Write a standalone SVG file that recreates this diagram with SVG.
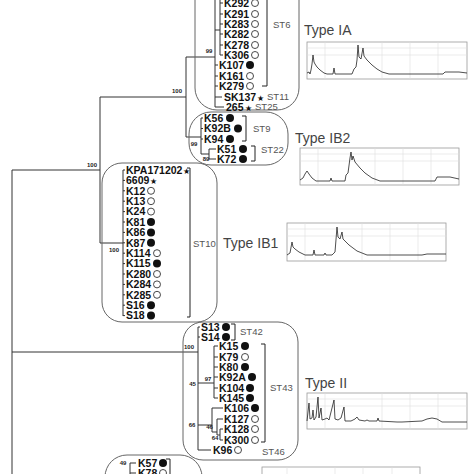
<svg xmlns="http://www.w3.org/2000/svg" width="474" height="474" viewBox="0 0 474 474">
<style>
.leaf{font-family:"Liberation Sans",Arial,sans-serif;font-size:10.5px;font-weight:bold;fill:#111}
.bs{font-family:"Liberation Sans",Arial,sans-serif;font-size:6px;font-weight:bold;fill:#222;text-anchor:middle}
.st{font-family:"Liberation Sans",Arial,sans-serif;font-size:9.5px;fill:#555}
.ty{font-family:"Liberation Sans",Arial,sans-serif;font-size:14px;fill:#444}
.box{fill:none;stroke:#666;stroke-width:1}
.tr{fill:none;stroke:#333;stroke-width:1}
.br{fill:none;stroke:#222;stroke-width:1}
.f{fill:#111}
.o{fill:#fff;stroke:#333;stroke-width:0.9}
.star{font-family:"DejaVu Sans",sans-serif;font-size:8px;fill:#111}
.cb{fill:#fff;stroke:#999;stroke-width:0.8}
.gl{stroke:#ddd;stroke-width:0.6}
.trace{fill:none;stroke:#222;stroke-width:0.8;stroke-linejoin:round}
</style>
<defs>
<g id="grid">
<line class="gl" x1="0" y1="6" x2="160" y2="6"/>
<line class="gl" x1="0" y1="13" x2="160" y2="13"/>
<line class="gl" x1="18" y1="0" x2="18" y2="37"/>
<line class="gl" x1="75" y1="0" x2="75" y2="37"/>
<line class="gl" x1="103" y1="0" x2="103" y2="37"/>
<line class="gl" x1="131" y1="0" x2="131" y2="37"/>
</g>
</defs>

<g id="connectors">
<!-- root -->
<path class="tr" d="M12,170 V474 M12,170 H100 M100,97 V243 M100,97 H186 M12,352 H198"/>
<!-- ST6 clade -->
<path class="tr" d="M186,57 V137 M186,57 H215 M215,-5 V107 M220,-5 V55 M215,30 H220"/>
<path class="tr" d="M220,3 H223 M220,14 H223 M220,24 H223 M220,34 H223 M220,45 H223 M220,55 H223 M215,65 H218 M215,76 H218 M215,86 H218 M215,97 H222 M215,107 H224"/>
<!-- ST9/ST22 clade -->
<path class="tr" d="M186,137 H201 M201,118 V154 M201,118 H203 M201,128.5 H203 M201,139 H203 M201,154 H209 M209,149 V159 M209,149 H216 M209,159 H216"/>
<!-- ST10 clade -->
<path class="tr" d="M100,243 H123 M123,170 V316"/>
<path class="tr" d="M123,170H125M123,180.4H125M123,190.8H125M123,201.2H125M123,211.6H125M123,222H125M123,232.4H125M123,242.8H125M123,253.2H125M123,263.6H125M123,274H125M123,284.4H125M123,294.8H125M123,305.2H125M123,315.6H125"/>
<!-- Type II clade -->
<path class="tr" d="M198,327 V450 M198,327 H200 M198,337 H200 M198,383 H214 M214,346 V398 M214,346H218M214,357H218M214,367H218M214,377H218M214,388H218M214,398H218 M198,425 H212 M212,408 V432 M212,408 H223 M212,432 H217 M217,419 V435 M217,419 H223 M217,435 H220 M220,429 V440 M220,429 H223 M220,440 H223 M198,450 H211"/>
<!-- bottom clade -->
<path class="tr" d="M130,463 V480 M130,463 H136 M130,473 H136"/>
</g>

<g id="bootstrap">
<text class="bs" x="209" y="53">99</text>
<text class="bs" x="177" y="93">100</text>
<text class="bs" x="92" y="167">100</text>
<text class="bs" x="194" y="146">99</text>
<text class="bs" x="206" y="161">89</text>
<text class="bs" x="114" y="252">100</text>
<text class="bs" x="189" y="349">100</text>
<text class="bs" x="208" y="381">97</text>
<text class="bs" x="192.5" y="386">45</text>
<text class="bs" x="192" y="427">66</text>
<text class="bs" x="209.5" y="429">46</text>
<text class="bs" x="215" y="440">64</text>
<text class="bs" x="123" y="465">49</text>
</g>

<g id="clade-ST6">
<rect class="box" x="195" y="-40" width="104" height="150" rx="22"/>
<text class="leaf" x="224" y="6.8">K292</text><circle class="o" cx="255" cy="3" r="3.5"/>
<text class="leaf" x="224" y="17.8">K291</text><circle class="o" cx="255" cy="14" r="3.5"/>
<text class="leaf" x="224" y="27.8">K283</text><circle class="o" cx="255" cy="24" r="3.5"/>
<text class="leaf" x="224" y="37.8">K282</text><circle class="o" cx="255" cy="34" r="3.5"/>
<text class="leaf" x="224" y="48.8">K278</text><circle class="o" cx="255" cy="45" r="3.5"/>
<text class="leaf" x="224" y="58.8">K306</text><circle class="o" cx="255" cy="55" r="3.5"/>
<text class="leaf" x="219" y="68.8">K107</text><circle class="f" cx="250" cy="65" r="4"/>
<text class="leaf" x="219" y="79.8">K161</text><circle class="o" cx="250" cy="76" r="3.5"/>
<text class="leaf" x="219" y="89.8">K279</text><circle class="o" cx="250" cy="86" r="3.5"/>
<text class="leaf" x="224" y="100.8">SK137</text><text class="star" x="257" y="100.5">★</text>
<text class="leaf" x="226" y="110.8">265</text><text class="star" x="245" y="110.5">★</text>
<path class="br" d="M267,-2 V86 H262"/>
<text class="st" x="273" y="28">ST6</text>
<text class="st" x="267" y="100">ST11</text>
<text class="st" x="255" y="110">ST25</text>
</g>

<g id="clade-ST9">
<rect class="box" x="189" y="112" width="99" height="53" rx="22"/>
<text class="leaf" x="204" y="121.8">K56</text><circle class="f" cx="230" cy="118" r="4"/>
<text class="leaf" x="204" y="132.3">K92B</text><circle class="f" cx="238" cy="128.5" r="4"/>
<text class="leaf" x="204" y="142.8">K94</text><circle class="f" cx="230" cy="139" r="4"/>
<text class="leaf" x="217" y="152.8">K51</text><circle class="f" cx="243" cy="149" r="4"/>
<text class="leaf" x="217" y="162.8">K72</text><circle class="f" cx="243" cy="159" r="4"/>
<path class="br" d="M242,116 H246 V141 H242 M251,146 H255 V161 H251"/>
<text class="st" x="253" y="132">ST9</text>
<text class="st" x="261" y="153">ST22</text>
</g>

<g id="clade-ST10">
<rect class="box" x="102" y="163" width="115" height="159" rx="20"/>
<text class="leaf" x="126" y="173.8">KPA171202</text><text class="star" x="183" y="173.5">★</text>
<text class="leaf" x="126" y="184.2">6609</text><text class="star" x="150" y="184">★</text>
<text class="leaf" x="126" y="194.6">K12</text><circle class="o" cx="151" cy="190.8" r="3.5"/>
<text class="leaf" x="126" y="205">K13</text><circle class="o" cx="151" cy="201.2" r="3.5"/>
<text class="leaf" x="126" y="215.4">K24</text><circle class="o" cx="151" cy="211.6" r="3.5"/>
<text class="leaf" x="126" y="225.8">K81</text><circle class="f" cx="151" cy="222" r="4"/>
<text class="leaf" x="126" y="236.2">K86</text><circle class="f" cx="151" cy="232.4" r="4"/>
<text class="leaf" x="126" y="246.6">K87</text><circle class="f" cx="151" cy="242.8" r="4"/>
<text class="leaf" x="126" y="257">K114</text><circle class="o" cx="157" cy="253.2" r="3.5"/>
<text class="leaf" x="126" y="267.4">K115</text><circle class="f" cx="157" cy="263.6" r="4"/>
<text class="leaf" x="126" y="277.8">K280</text><circle class="o" cx="157" cy="274" r="3.5"/>
<text class="leaf" x="126" y="288.2">K284</text><circle class="o" cx="157" cy="284.4" r="3.5"/>
<text class="leaf" x="126" y="298.6">K285</text><circle class="o" cx="157" cy="294.8" r="3.5"/>
<text class="leaf" x="126" y="309">S16</text><circle class="f" cx="151" cy="305.2" r="4"/>
<text class="leaf" x="126" y="319.4">S18</text><circle class="f" cx="151" cy="315.6" r="4"/>
<path class="br" d="M187,168 H190 V317 H187"/>
<text class="st" x="193" y="247">ST10</text>
</g>

<g id="clade-ST43">
<rect class="box" x="183" y="322" width="115" height="138" rx="20"/>
<text class="leaf" x="201" y="330.8">S13</text><circle class="f" cx="226" cy="327" r="4"/>
<text class="leaf" x="201" y="340.8">S14</text><circle class="f" cx="226" cy="337" r="4"/>
<text class="leaf" x="219" y="349.8">K15</text><circle class="f" cx="245" cy="346" r="4"/>
<text class="leaf" x="219" y="360.8">K79</text><circle class="o" cx="245" cy="357" r="3.5"/>
<text class="leaf" x="219" y="370.8">K80</text><circle class="f" cx="245" cy="367" r="4"/>
<text class="leaf" x="219" y="380.8">K92A</text><circle class="f" cx="252" cy="377" r="4"/>
<text class="leaf" x="219" y="391.8">K104</text><circle class="f" cx="250" cy="388" r="4"/>
<text class="leaf" x="219" y="401.8">K145</text><circle class="f" cx="250" cy="398" r="4"/>
<text class="leaf" x="224" y="411.8">K106</text><circle class="f" cx="255" cy="408" r="4"/>
<text class="leaf" x="224" y="422.8">K127</text><circle class="o" cx="255" cy="419" r="3.5"/>
<text class="leaf" x="224" y="432.8">K128</text><circle class="o" cx="255" cy="429" r="3.5"/>
<text class="leaf" x="224" y="443.8">K300</text><circle class="o" cx="255" cy="440" r="3.5"/>
<text class="leaf" x="213" y="453.8">K96</text><circle class="o" cx="238" cy="450" r="3.5"/>
<path class="br" d="M231,324 H235 V340 H231 M261,344 H265 V442 H261"/>
<text class="st" x="240" y="335">ST42</text>
<text class="st" x="270" y="391">ST43</text>
<text class="st" x="262" y="455">ST46</text>
</g>

<g id="clade-bottom">
<rect class="box" x="105" y="455" width="97" height="60" rx="22"/>
<text class="leaf" x="138" y="466.8">K57</text><circle class="f" cx="163" cy="463" r="4"/>
<text class="leaf" x="138" y="476.8">K78</text><circle class="o" cx="163" cy="473" r="3.5"/>
<path class="br" d="M166,459 H170 V480"/>
</g>

<g id="type-IA">
<text class="ty" x="304" y="35">Type IA</text>
<g transform="translate(307,42)">
<rect class="cb" x="0" y="0" width="160" height="37"/>
<use href="#grid"/>
<path class="trace" d="M0,31 L2,30 L3,32 L4,28 L5,22 L6,13 L7,20 L8,22 L10,25 L13,28 L17,31 L20,32 L26,32 L27,26 L28,32 L45,32 L47,27 L49,25 L50,18 L51,3 L52,15 L54,17 L56,6 L57,14 L60,18 L65,23 L70,27 L75,30 L82,32 L136,32 L138,30 L152,30 L160,31"/>
</g>
</g>

<g id="type-IB2">
<text class="ty" x="295" y="143">Type IB2</text>
<g transform="translate(300,148)">
<rect class="cb" x="0" y="0" width="159" height="37"/>
<use href="#grid"/>
<path class="trace" d="M0,32 L3,30 L5,26 L7,23 L9,26 L12,30 L16,33 L30,33 L31,30 L32,33 L45,33 L46,27 L48,25 L50,10 L51,4 L52,12 L53,8 L55,14 L60,20 L65,25 L72,30 L80,33 L135,33 L137,29 L150,29 L159,31"/>
</g>
</g>

<g id="type-IB1">
<text class="ty" x="223" y="248">Type IB1</text>
<g transform="translate(287,223)">
<rect class="cb" x="0" y="0" width="159" height="38"/>
<use href="#grid"/>
<path class="trace" d="M0,32 L3,30 L5,19 L6,24 L8,26 L12,29 L18,32 L26,32 L27,27 L28,32 L37,32 L38,30 L39,32 L45,32 L48,29 L50,4 L51,14 L53,16 L55,9 L56,16 L62,22 L70,28 L80,32 L135,32 L140,31 L159,31"/>
</g>
</g>

<g id="type-II">
<text class="ty" x="305" y="388">Type II</text>
<g transform="translate(307,393)">
<rect class="cb" x="0" y="0" width="160" height="36"/>
<use href="#grid"/>
<path class="trace" d="M0,28 L2,10 L3,26 L5,25 L6,17 L7,27 L9,24 L11,4 L12,25 L14,15 L15,27 L18,26 L20,25 L22,27 L27,7 L28,26 L31,27 L34,25 L37,14 L38,28 L44,28 L48,26 L50,24 L52,27 L58,28 L60,27 L62,28 L70,28 L71,25 L72,28 L90,29 L95,29 L115,28 L120,26 L125,25 L130,26 L135,29 L150,29 L160,29"/>
</g>
</g>

<g id="type-bottom">
<rect class="cb" x="262" y="467" width="158" height="30"/>
<line class="gl" x1="287" y1="467" x2="287" y2="474"/>
<line class="gl" x1="335" y1="467" x2="335" y2="474"/>
<line class="gl" x1="363" y1="467" x2="363" y2="474"/>
<line class="gl" x1="392" y1="467" x2="392" y2="474"/>
</g>
</svg>
